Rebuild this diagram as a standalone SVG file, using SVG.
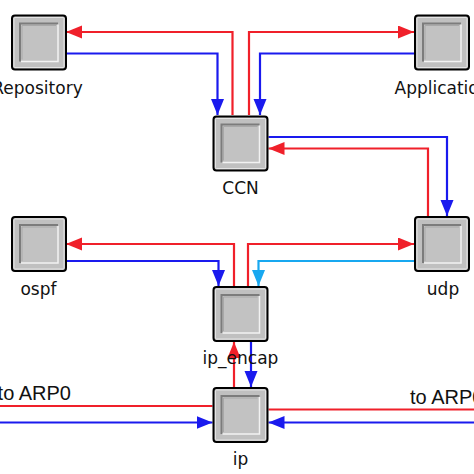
<svg xmlns="http://www.w3.org/2000/svg" xmlns:xlink="http://www.w3.org/1999/xlink" width="474" height="474" viewBox="0 0 474 474">
<style>
.lbl{font-family:"DejaVu Sans",Verdana,sans-serif;font-size:17px;fill:#111;text-anchor:middle}
.ext{font-family:"Liberation Sans",Arial,sans-serif;font-size:20px;fill:#111}
.c{fill:none;stroke-width:2.2}
.r{stroke:#f0202a}
.b{stroke:#1a1aee}
.lb{stroke:#18a8f0}
</style>
<defs>
<marker id="ar" markerUnits="userSpaceOnUse" markerWidth="16" markerHeight="14" refX="16" refY="6.5" orient="auto"><path d="M0,0 L16,6.5 L0,13 z" fill="#f0202a"/></marker>
<marker id="ab" markerUnits="userSpaceOnUse" markerWidth="16" markerHeight="14" refX="16" refY="6.5" orient="auto"><path d="M0,0 L16,6.5 L0,13 z" fill="#1a1aee"/></marker>
<marker id="alb" markerUnits="userSpaceOnUse" markerWidth="16" markerHeight="14" refX="16" refY="6.5" orient="auto"><path d="M0,0 L16,6.5 L0,13 z" fill="#18a8f0"/></marker>
<g id="box">
<rect x="1" y="1" width="54" height="54" rx="3" fill="#c0c0c0" stroke="#000" stroke-width="2"/>
<rect x="3" y="3" width="50" height="50" rx="1" fill="none" stroke="#e4e4e4" stroke-width="1"/>
<rect x="9" y="9" width="38" height="38" fill="#c2c2c2"/>
<path d="M9,47 L9,9 L47,9" fill="none" stroke="#7c7c7c" stroke-width="2"/>
<path d="M10,47 L47,47 L47,10" fill="none" stroke="#f2f2f2" stroke-width="1.5"/>
<path d="M11,45 L11,11 L45,11" fill="none" stroke="#a8a8a8" stroke-width="1"/>
</g>
</defs>
<rect width="474" height="474" fill="#fff"/>
<g id="connectors">
<path class="c r" d="M232.5,115 V32 H66" marker-end="url(#ar)"/>
<path class="c b" d="M66,53.5 H217.5 V115" marker-end="url(#ab)"/>
<path class="c r" d="M249,115 V32 H414" marker-end="url(#ar)"/>
<path class="c b" d="M414,53.5 H260 V115" marker-end="url(#ab)"/>
<path class="c b" d="M268.5,137 H447 V216" marker-end="url(#ab)"/>
<path class="c r" d="M428,216 V148.5 H268.5" marker-end="url(#ar)"/>
<path class="c r" d="M234,286 V244 H66" marker-end="url(#ar)"/>
<path class="c b" d="M66,261 H218.5 V286" marker-end="url(#ab)"/>
<path class="c r" d="M248,286 V244 H414" marker-end="url(#ar)"/>
<path class="c lb" d="M414,261 H258.5 V286" marker-end="url(#alb)"/>
<path class="c r" d="M234,387 V342" marker-end="url(#ar)"/>
<path class="c b" d="M251,342 V387" marker-end="url(#ab)"/>
<path class="c r" d="M212.5,406 H0"/>
<path class="c b" d="M0,422.5 H212.5" marker-end="url(#ab)"/>
<path class="c r" d="M268.5,409.5 H474"/>
<path class="c b" d="M474,422.5 H268.5" marker-end="url(#ab)"/>
</g>
<g id="Repository"><use xlink:href="#box" x="11" y="14.5"/><text class="lbl" x="37.5" y="94">Repository</text></g>
<g id="Application"><use xlink:href="#box" x="414" y="14.5"/><text class="lbl" x="442" y="94">Application</text></g>
<g id="CCN"><use xlink:href="#box" x="212.5" y="115.5"/><text class="lbl" x="240.5" y="193.5">CCN</text></g>
<g id="ospf"><use xlink:href="#box" x="11" y="216"/><text class="lbl" x="38.5" y="294.5">ospf</text></g>
<g id="udp"><use xlink:href="#box" x="414" y="216"/><text class="lbl" x="443" y="295">udp</text></g>
<g id="ip_encap"><use xlink:href="#box" x="212.5" y="286"/><text class="lbl" x="240.5" y="364">ip_encap</text></g>
<g id="ip"><use xlink:href="#box" x="212.5" y="387"/><text class="lbl" x="240.5" y="465">ip</text></g>
<text class="ext" x="71" y="399.5" text-anchor="end">to ARP0</text>
<text class="ext" x="410" y="404">to ARP0</text>
</svg>
